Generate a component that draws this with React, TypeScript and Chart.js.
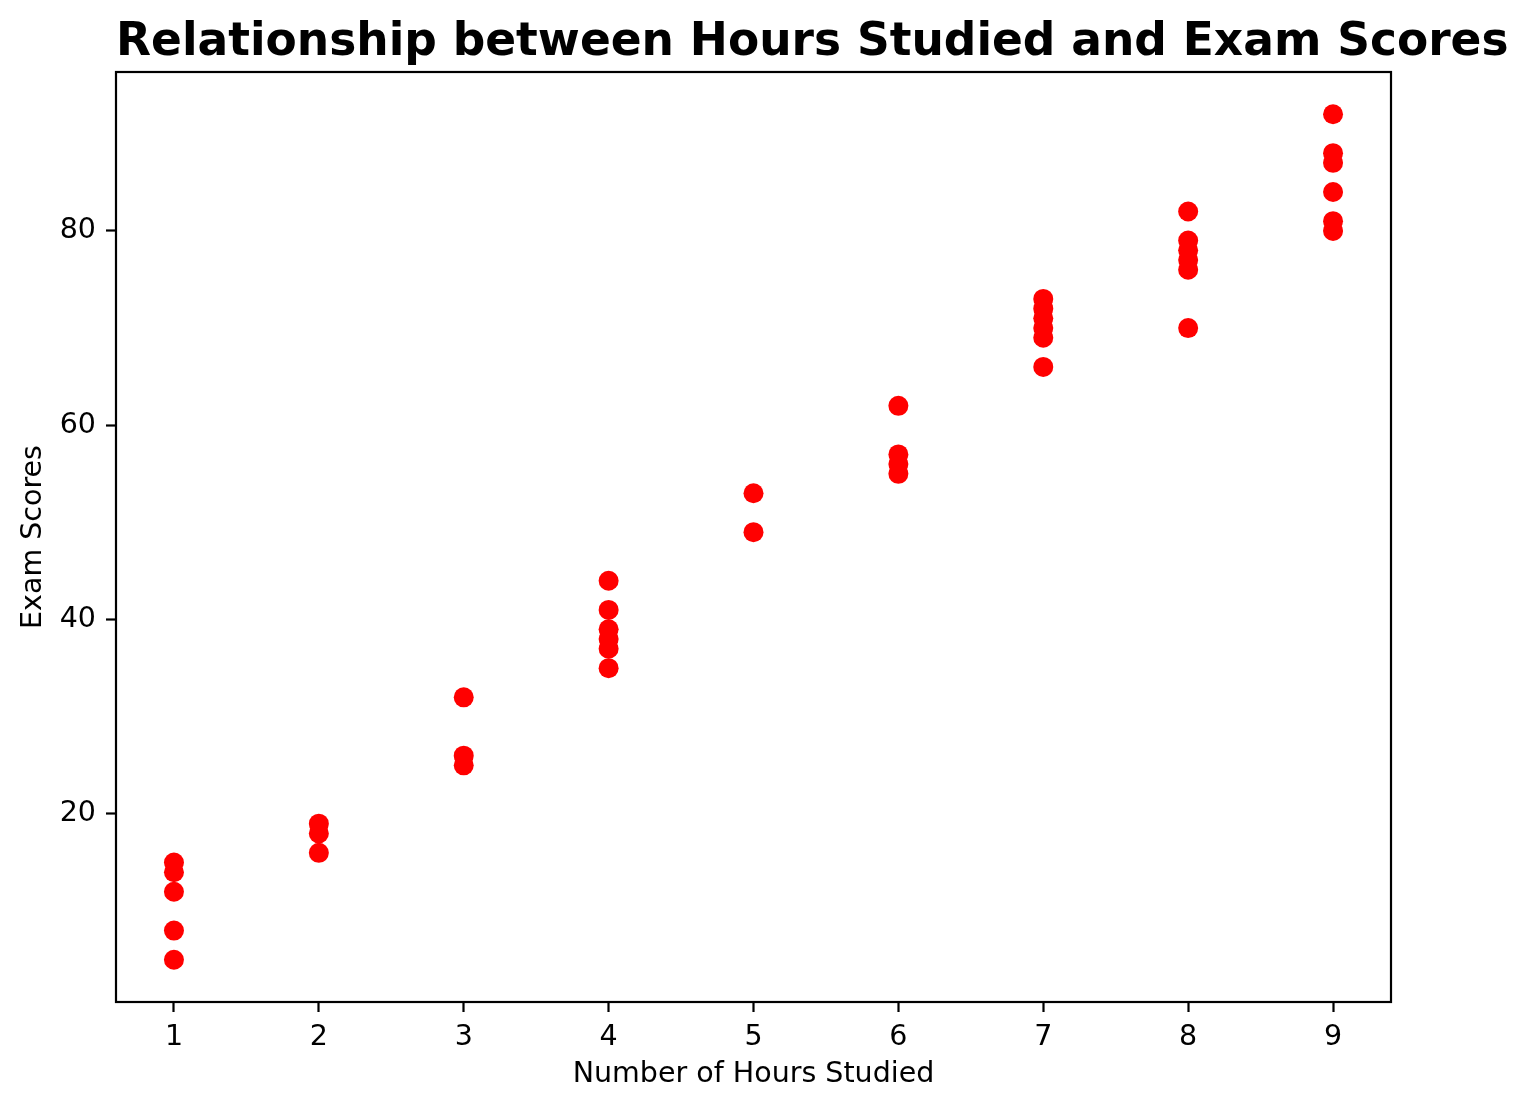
import React, { useEffect, useRef } from 'react';
import { Chart, registerables } from 'chart.js';

Chart.register(...registerables);

// hours studied (x) and exam score (y) for each student
const hoursStudied = [
  1, 1, 1, 1, 1,
  2, 2, 2,
  3, 3, 3,
  4, 4, 4, 4, 4, 4,
  5, 5,
  6, 6, 6, 6,
  7, 7, 7, 7, 7, 7,
  8, 8, 8, 8, 8, 8,
  9, 9, 9, 9, 9, 9,
];
const examScores = [
  15, 14, 12, 8, 5,
  19, 18, 16,
  32, 26, 25,
  44, 41, 39, 38, 37, 35,
  53, 49,
  62, 57, 56, 55,
  73, 72, 71, 70, 69, 66,
  82, 79, 78, 77, 76, 70,
  92, 88, 87, 84, 81, 80,
];
const xTicks = [1, 2, 3, 4, 5, 6, 7, 8, 9];
const yTicks = [20, 40, 60, 80];

const TITLE = 'Relationship between Hours Studied and Exam Scores';
const FONT = "'DejaVu Sans', sans-serif";

// axes frame + title drawn left-aligned with the plot box (the built-in
// title squeezes text wider than its box, and this one overhangs on the right)
const frame = {
  id: 'frame',
  afterDraw(chart: Chart) {
    const { ctx, chartArea } = chart;
    ctx.save();
    ctx.strokeStyle = '#000';
    ctx.lineWidth = 2.2;
    ctx.strokeRect(chartArea.left, chartArea.top, chartArea.right - chartArea.left, chartArea.bottom - chartArea.top);
    ctx.fillStyle = '#000';
    ctx.font = `bold 45.5px ${FONT}`;
    ctx.textAlign = 'left';
    ctx.textBaseline = 'alphabetic';
    ctx.fillText(TITLE, chartArea.left, 55);
    ctx.restore();
  },
};

const ScatterChart = () => {
  const chartRef = useRef<HTMLCanvasElement>(null);
  const chartInstance = useRef<Chart>();

  useEffect(() => {
    if (chartInstance.current) {
      chartInstance.current.destroy();
    }
    const ctx = chartRef.current?.getContext('2d');
    if (!ctx) return;

    chartInstance.current = new Chart(ctx, {
      type: 'scatter',
      data: {
        datasets: [
          {
            data: hoursStudied.map((h, i) => ({ x: h, y: examScores[i] })),
            backgroundColor: '#ff0000',
            borderWidth: 0,
            pointRadius: 10,
            pointHoverRadius: 10,
          },
        ],
      },
      options: {
        animation: false,
        responsive: false,
        devicePixelRatio: 1,
        layout: { padding: { left: 0, right: 145, top: 72, bottom: 0 } },
        plugins: {
          legend: { display: false },
          tooltip: { enabled: false },
          title: { display: false },
        },
        scales: {
          x: {
            type: 'linear',
            min: 0.6,
            max: 9.4,
            afterBuildTicks: (scale: any) => {
              scale.ticks = xTicks.map((v) => ({ value: v }));
            },
            afterFit: (scale: any) => {
              scale.height = 108;
            },
            border: { display: false },
            grid: { drawOnChartArea: false, drawTicks: true, tickLength: 10, tickWidth: 2.2, tickColor: '#000' },
            ticks: { color: '#000', font: { family: FONT, size: 28.5 }, padding: 8, maxRotation: 0 },
            title: {
              display: true,
              text: 'Number of Hours Studied',
              color: '#000',
              font: { family: FONT, size: 28.5, lineHeight: 1.2 },
              padding: { top: 0, bottom: 18 },
            },
          },
          y: {
            type: 'linear',
            min: 0.65,
            max: 96.35,
            afterBuildTicks: (scale: any) => {
              scale.ticks = yTicks.map((v) => ({ value: v }));
            },
            afterFit: (scale: any) => {
              scale.width = 116;
            },
            border: { display: false },
            grid: { drawOnChartArea: false, drawTicks: true, tickLength: 10, tickWidth: 2.2, tickColor: '#000' },
            ticks: { color: '#000', font: { family: FONT, size: 28.5 }, padding: 10 },
            title: {
              display: true,
              text: 'Exam Scores',
              color: '#000',
              font: { family: FONT, size: 28.5, lineHeight: 1.2 },
              padding: { top: 16, bottom: 0 },
            },
          },
        },
      },
      plugins: [frame],
    });

    return () => {
      if (chartInstance.current) {
        chartInstance.current.destroy();
      }
    };
  }, []);

  return (
    <div style={{ position: 'fixed', left: 0, top: 0, width: 1536, height: 1110, background: '#fff' }}>
      <canvas ref={chartRef} width={1536} height={1110} />
    </div>
  );
};

export default function App() {
  return <ScatterChart />;
}
